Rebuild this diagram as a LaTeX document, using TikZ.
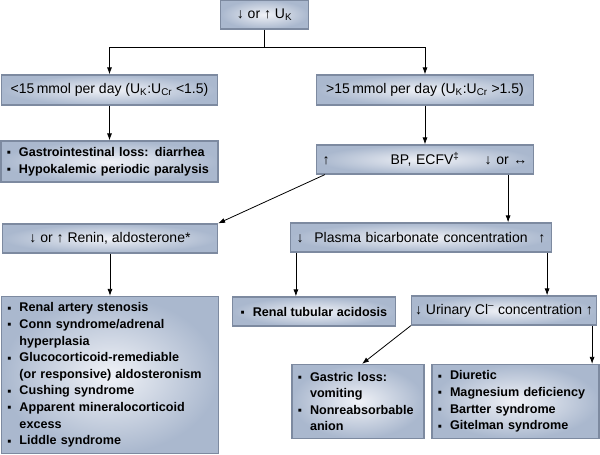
\documentclass[tikz,border=0pt]{standalone}
\usepackage{fontspec}
\setmainfont{Liberation Sans}
\usetikzlibrary{arrows.meta,positioning}
\definecolor{boxline}{RGB}{125,138,160}
\definecolor{boxout}{RGB}{170,184,206}
\definecolor{boxin}{RGB}{240,242,247}
\newcommand{\bul}{\makebox[12pt][l]{\raisebox{1.5pt}{\fontsize{6}{6}\selectfont ■}}}
\newcommand{\cont}{\hspace*{12pt}}

\begin{document}
\begin{tikzpicture}[x=1pt, y=-1pt,
		box/.style={draw=boxline, line width=1.2pt, inner color=boxin, outer color=boxout,
			shading=radial, minimum height=29pt, inner sep=0pt,
			font=\fontsize{14}{16.5}\selectfont},
		listbox/.style={box, align=left, text width=#1, inner xsep=6pt, font=\fontsize{12.6}{16.6}\selectfont\bfseries},
		arr/.style={-{Latex[length=7pt,width=5pt]}, line width=0.8pt},
	]
		\useasboundingbox (0,0) rectangle (600,455);
		
		\node[box, minimum width=88pt] (uk) at (264.5,14.5) {↓ or ↑ U\textsubscript{K}};
		\node[box, minimum width=216pt, minimum height=30pt] (low) at (109.5,90) {<15\,mmol per day (U\textsubscript{K}:U\textsubscript{Cr} <1.5)};
		\node[box, minimum width=217pt, minimum height=30pt] (high) at (425,90) {>15\,mmol per day (U\textsubscript{K}:U\textsubscript{Cr} >1.5)};
		
		\node[listbox=205pt, minimum height=41pt] (gi) at (109.5,161.5) {\bul Gastrointestinal loss: diarrhea\\\bul Hypokalemic periodic paralysis};
		\node[box, minimum width=217pt, text width=205pt] (bp) at (425,159.5) {\rlap{↑}\hfill BP, ECFV\textsuperscript{‡}\hfill\llap{↓ or ↔}};
		
		\node[box, minimum width=215pt] (renin) at (110,238.5) {↓ or ↑ Renin, aldosterone*};
		\node[box, minimum width=261pt, text width=249pt] (bicarb) at (421,237.5) {\rlap{↓}\hfill Plasma bicarbonate concentration\hfill\llap{↑}};
		
		\node[listbox=205pt, minimum height=157pt] (causes) at (110,375) {\bul Renal artery stenosis\\\bul Conn syndrome/adrenal\\\cont hyperplasia\\\bul Glucocorticoid-remediable\\\cont (or responsive) aldosteronism\\\bul Cushing syndrome\\\bul Apparent mineralocorticoid\\\cont excess\\\bul Liddle syndrome};
		\node[box, minimum width=163pt, font=\fontsize{12.6}{16.6}\selectfont\bfseries] (rta) at (314,311.5) {\bul Renal tubular acidosis};
		\node[box, minimum width=185pt] (cl) at (504,310.5) {↓ Urinary Cl\textsuperscript{–} concentration ↑};
		
		\node[listbox=120pt, minimum height=74pt] (gastric) at (358,401.5) {\bul Gastric loss:\\\cont vomiting\\\bul Nonreabsorbable\\\cont anion};
		\node[listbox=155pt, minimum height=74pt] (diuretic) at (515.5,401.5) {\bul Diuretic\\\bul Magnesium deficiency\\\bul Bartter syndrome\\\bul Gitelman syndrome};
		
		% connectors
		\coordinate (split) at (264.5,47);
		\draw[line width=0.8pt] (uk) -- (split);
		\draw[arr] (split) -| (low);
		\draw[arr] (split) -| (high);
		\draw[arr] (low) -- (gi);
		\draw[arr] (high) -- (bp);
		\draw[arr] ([xshift=9pt]bp.south west) -- (renin.north east);
		\draw[arr] ([xshift=-26pt]bp.south east) -- ([xshift=-26pt]bp.south east |- bicarb.north);
		\draw[arr] (renin) -- (causes);
		\draw[arr] ([xshift=6pt]bicarb.south west) -- ([xshift=6pt]bicarb.south west |- rta.north);
		\draw[arr] ([xshift=-5pt]bicarb.south east) -- ([xshift=-5pt]bicarb.south east |- cl.north);
		\draw[arr] (cl.south west) -- ([xshift=4pt]gastric.north);
		\draw[arr] ([xshift=-5pt]cl.south east) -- ([xshift=-5pt]cl.south east |- diuretic.north);
	\end{tikzpicture}
\end{document}
